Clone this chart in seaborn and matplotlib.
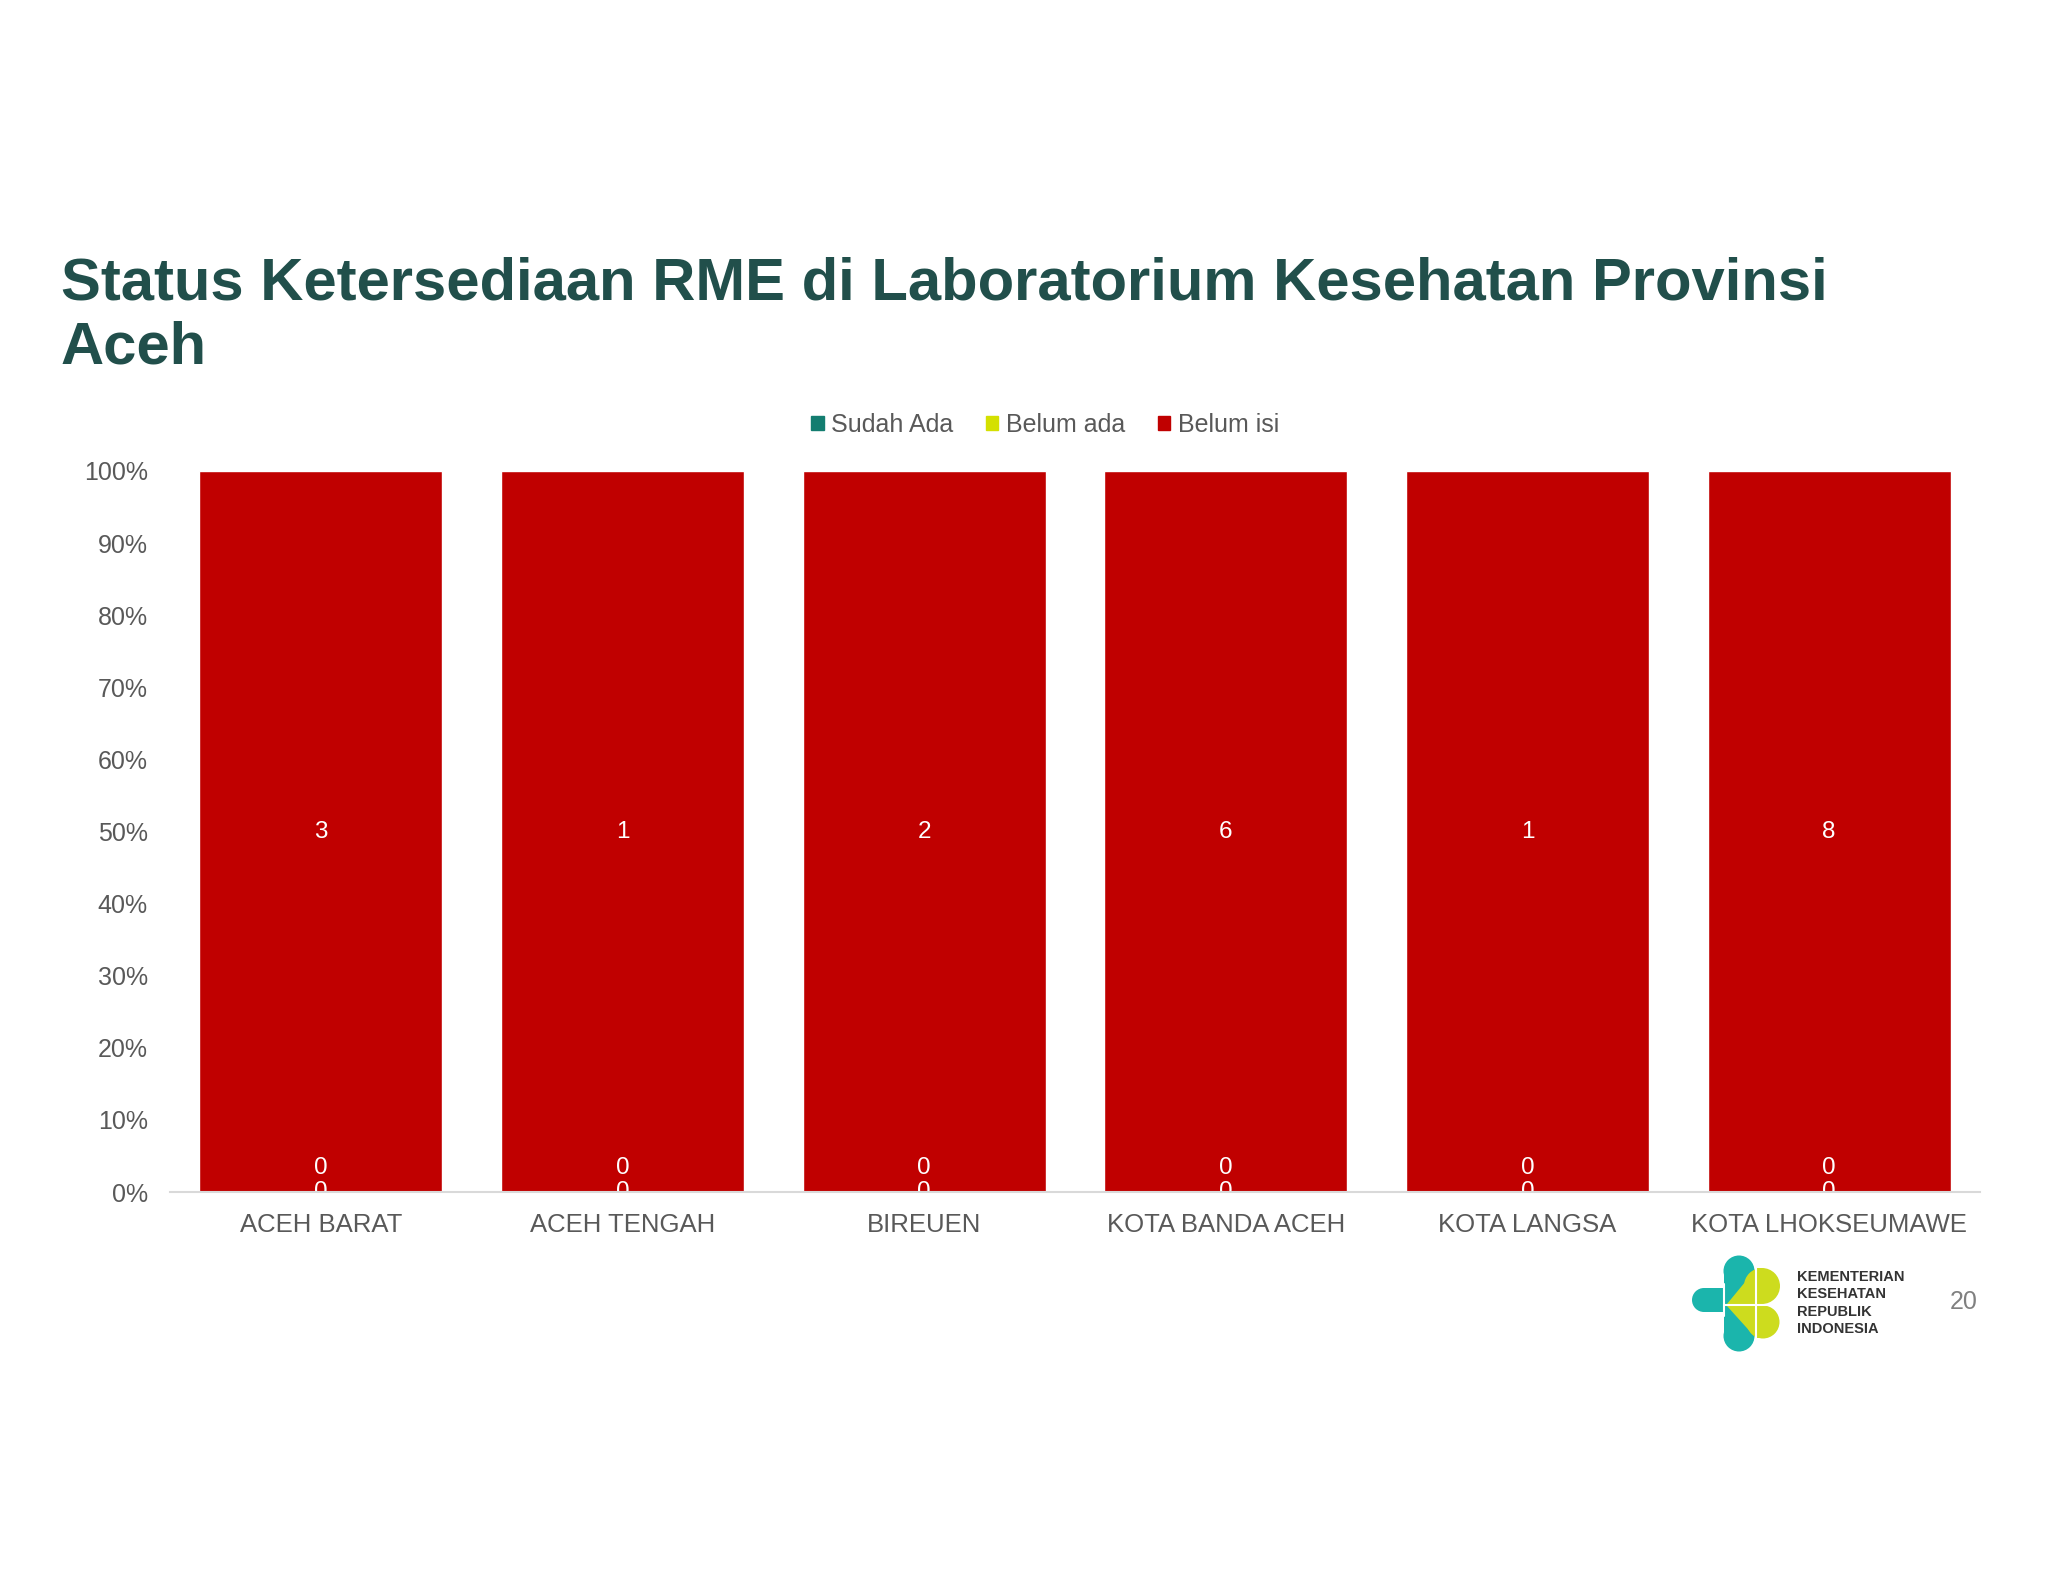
import numpy as np
import pandas as pd
import matplotlib
matplotlib.use("Agg")
import matplotlib.pyplot as plt
import matplotlib.patches as mpatches
import seaborn as sns

# =============================
# Données
# =============================
categories = ["ACEH BARAT", "ACEH TENGAH", "BIREUEN", "KOTA BANDA ACEH",
              "KOTA LANGSA", "KOTA LHOKSEUMAWE"]
series_names = ["Sudah Ada", "Belum ada", "Belum isi"]
sudah_ada = [0, 0, 0, 0, 0, 0]
belum_ada = [0, 0, 0, 0, 0, 0]
belum_isi = [3, 1, 2, 6, 1, 8]
series_colors = ["#137D70", "#D4E000", "#C00000"]
y_ticks = list(range(0, 101, 10))

title_lines = ["Status Ketersediaan RME di Laboratorium Kesehatan Provinsi", "Aceh"]
logo_lines = ["KEMENTERIAN", "KESEHATAN", "REPUBLIK", "INDONESIA"]
page_number = "20"

# =============================
# Style
# =============================
sns.set_theme(style="white")
plt.rcParams["font.family"] = ["Liberation Sans", "DejaVu Sans"]
GREY = "#595959"

W, H = 2048, 1582
fig = plt.figure(figsize=(W / 100, H / 100), dpi=100)
fig.patch.set_facecolor("white")

def px(x0, y0, x1, y1):
    """bbox en pixels (haut-gauche) -> rect figure"""
    return [x0 / W, 1 - y1 / H, (x1 - x0) / W, (y1 - y0) / H]

ax = fig.add_axes(px(170, 471, 1980, 1192))

# pourcentages empilés
counts = pd.DataFrame({"cat": categories, "Sudah Ada": sudah_ada,
                       "Belum ada": belum_ada, "Belum isi": belum_isi})
totals = counts[series_names].sum(axis=1)
pct = counts[series_names].div(totals, axis=0) * 100

bottom = np.zeros(len(categories))
for i, name in enumerate(series_names):
    sns.barplot(x=counts["cat"], y=pct[name].values, bottom=bottom,
                color=series_colors[i], width=0.805, saturation=1,
                order=categories, ax=ax, zorder=2)
    # étiquettes de données (blanc)
    offsets = [17, 0, 0]
    for j, cat in enumerate(categories):
        yc = bottom[j] + pct[name].values[j] / 2
        ax.annotate(str(counts[name].values[j]), (j, yc),
                    xytext=(0, offsets[i] if pct[name].values[j] == 0 else 0),
                    textcoords="offset points", ha="center", va="center",
                    color="white", fontsize=17.5, clip_on=True, zorder=5)
    bottom = bottom + pct[name].values

ax.set_xlim(-0.5, len(categories) - 0.5)
ax.set_ylim(0, 100)
ax.set_yticks(y_ticks)
ax.set_yticklabels([f"{t}%" for t in y_ticks])
ax.set_xlabel("")
ax.set_ylabel("")
ax.tick_params(axis="y", length=0, pad=16, labelsize=18, labelcolor=GREY)
ax.tick_params(axis="x", length=0, pad=15, labelsize=18.5, labelcolor=GREY)
for s in ["top", "right", "left"]:
    ax.spines[s].set_visible(False)
ax.spines["bottom"].set_color("#D9D9D9")
ax.spines["bottom"].set_linewidth(1.5)
ax.spines["bottom"].set_zorder(6)
ax.set_facecolor("none")

# légende
handles = [mpatches.Patch(color=c, label=n) for c, n in zip(series_colors, series_names)]
fig.legend(handles=handles, loc="center", bbox_to_anchor=(1045 / W, 1 - 425 / H),
           ncol=3, frameon=False, fontsize=18, labelcolor=GREY,
           handlelength=0.5, handleheight=0.5, handletextpad=0.3,
           columnspacing=1.3)

# titre (deux lignes)
for k, line in enumerate(title_lines):
    fig.text(61 / W, 1 - (300 + 63 * k) / H, line, ha="left", va="baseline",
             fontsize=43, fontweight="bold", color="#214F4B")

# =============================
# Logo (approximation)
# =============================
lax = fig.add_axes(px(1688, 1252, 1785, 1355))
lax.set_xlim(1688, 1785)
lax.set_ylim(1355, 1252)
lax.axis("off")
TEAL, LIME = "#1BB5AC", "#CDDC1E"
# pétale gauche
lax.add_patch(mpatches.Circle((1704, 1300), 12, color=TEAL, lw=0))
lax.add_patch(mpatches.Rectangle((1704, 1288), 20, 24, color=TEAL, lw=0))
# barre verticale
lax.add_patch(mpatches.Circle((1739, 1271), 15.5, color=TEAL, lw=0))
lax.add_patch(mpatches.Circle((1739, 1336), 15.5, color=TEAL, lw=0))
lax.add_patch(mpatches.Rectangle((1723.5, 1271), 31, 65, color=TEAL, lw=0))
# pétales droits
lax.add_patch(mpatches.Polygon([(1727, 1304), (1755, 1270), (1755, 1304)], color=LIME, lw=0))
lax.add_patch(mpatches.Polygon([(1727, 1306), (1755, 1306), (1755, 1337)], color=LIME, lw=0))
lax.add_patch(mpatches.Circle((1762, 1286), 18, color=LIME, lw=0))
lax.add_patch(mpatches.Rectangle((1755, 1268), 7, 36, color=LIME, lw=0))
lax.add_patch(mpatches.Circle((1763, 1322), 16.5, color=LIME, lw=0))
lax.add_patch(mpatches.Rectangle((1755, 1306), 8, 32, color=LIME, lw=0))
# lignes blanches
lax.plot([1724, 1785], [1305, 1305], color="white", lw=1.5)
lax.plot([1755.5, 1755.5], [1264, 1345], color="white", lw=1.5)
lax.plot([1723.5, 1723.5], [1284, 1316], color="white", lw=1.5)

for k, line in enumerate(logo_lines):
    fig.text(1797 / W, 1 - (1277 + k * 17.3) / H, line, ha="left", va="center",
             fontsize=10.5, fontweight="bold", color="#333333")

fig.text(1964 / W, 1 - 1302 / H, page_number, ha="center", va="center",
         fontsize=18, color="#808080")

fig.savefig("out.png", dpi=100, facecolor="white")
